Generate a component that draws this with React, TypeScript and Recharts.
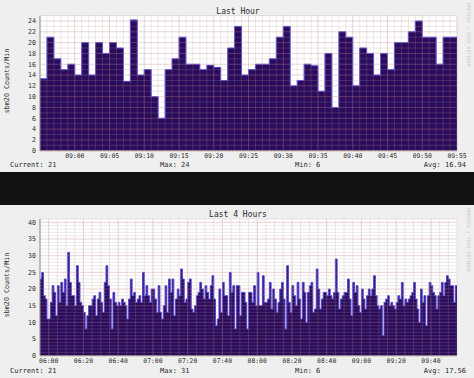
import React from 'react';
import { ComposedChart, Area, XAxis, YAxis, CartesianGrid } from 'recharts';

// ---- Last Hour (one value per minute, 08:55 → 09:55)
const hourValues = [
  13.3, 21, 17, 15, 16, 14, 20, 14, 20, 18,
  20, 19, 12.8, 24.2, 14, 15, 10, 6, 15, 17,
  21, 16, 16, 15, 15.8, 15.4, 13, 19, 23, 14,
  15, 16, 16, 17, 21, 23, 12, 13, 16, 15.7,
  11, 18, 8, 22, 21, 12, 19, 18, 14, 18,
  15, 20, 20, 22, 24, 21, 21, 16, 21, 21,
];
const hourTickLabels = ['09:00', '09:05', '09:10', '09:15', '09:20', '09:25', '09:30', '09:35', '09:40', '09:45', '09:50', '09:55'];
const hourYTicks = [0, 2, 4, 6, 8, 10, 12, 14, 16, 18, 20, 22, 24];

// ---- Last 4 Hours (one value per minute, 05:55 → 09:55)
const fourHourValues = [
  23, 25, 18, 17, 11, 11, 16, 21, 19, 12,
  21, 16, 22, 19, 23, 15, 31, 22, 18, 18,
  15, 27, 22, 16, 15, 13, 8, 12, 15, 15,
  17, 18, 12, 17, 19, 16, 13, 22, 27, 21,
  17, 8, 19, 16, 15, 16, 15, 17, 16, 15,
  11, 17, 23, 18, 19, 16, 17, 18, 16, 25,
  18, 21, 18, 16, 20, 20, 17, 13, 21, 13,
  11, 15, 21, 13, 23, 19, 23, 12, 17, 20,
  18, 26, 23, 16, 17, 22, 23, 14, 13, 15,
  18, 19, 22, 20, 17, 21, 19, 17, 21, 24,
  17, 9, 11, 20, 13, 22, 18, 18, 12, 25, 19, 21, 8,
  21, 21, 12, 19, 19, 16, 8, 19, 19, 16,
  21, 15, 25, 15, 15, 24, 16, 16, 17, 22,
  14, 20, 17, 13, 16, 20, 22, 17, 8, 27,
  16, 13, 21, 18, 15, 22, 17, 11, 22, 19,
  10, 19, 21, 22, 13, 14, 26, 20, 14, 17,
  19, 19, 18, 20, 18, 17, 19, 29, 19, 14,
  17, 18, 19, 19, 23, 17, 12, 22, 19, 21,
  15, 13, 20, 17, 14, 18, 20, 18, 20, 24,
  18, 15, 14, 15, 6, 16, 17, 18, 15, 16,
  15, 14, 16, 18, 17, 22, 15, 17, 16, 17,
  18, 19, 22, 17, 14, 10, 20, 16, 18, 9,
  18, 22, 21, 19, 18, 14, 18, 19, 22, 18,
  22, 24, 23, 21, 21, 16, 21,
];
const fourHourTickLabels = ['06:00', '06:20', '06:40', '07:00', '07:20', '07:40', '08:00', '08:20', '08:40', '09:00', '09:20', '09:40'];
const fourHourYTicks = [0, 5, 10, 15, 20, 25, 30, 35, 40];

const hourLegend = { current: '21', max: '24', min: '6', avg: '16.94' };
const fourHourLegend = { current: '21', max: '31', min: '6', avg: '17.56' };

const MONO = '"DejaVu Sans Mono", "Liberation Mono", monospace';
const FILL = '#2b0c5c';
const LINE = '#4d3fd6';
const TEXT = '#2a2a2a';

function toSteps(values: number[]) {
  const d = values.map((v, i) => ({ t: i, v }));
  d.push({ t: values.length, v: values[values.length - 1] });
  return d;
}

function range(start: number, end: number, step: number) {
  const out: number[] = [];
  for (let x = start; x <= end + 1e-9; x += step) out.push(x);
  return out;
}

type PanelProps = {
  top: number;
  height: number;
  plotTop: number;
  plotBottom: number;
  values: number[];
  yMax: number;
  yTicks: number[];
  xTickLabels: string[];
  firstTick: number;
  tickStep: number;
  minorX: number;
  minorY: number;
  title: string;
  legend: { current: string; max: string; min: string; avg: string };
};

function Txt({ x, y, size, children, anchor = 'left', color = TEXT }: any) {
  const tx = anchor === 'center' ? '-50%' : anchor === 'right' ? '-100%' : '0';
  return (
    <div
      style={{
        position: 'absolute', left: x, top: y, transform: `translate(${tx}, -50%)`,
        fontFamily: MONO, fontSize: size, color, whiteSpace: 'pre', lineHeight: 1,
      }}
    >
      {children}
    </div>
  );
}

function Panel(p: PanelProps) {
  const PLOT_LEFT = 40;
  const PLOT_RIGHT = 457;
  const W = 474;
  const n = p.values.length;
  const data = toSteps(p.values);
  const xTicks = p.xTickLabels.map((_, k) => p.firstTick + k * p.tickStep);
  const fmt = (t: number) => p.xTickLabels[Math.round((t - p.firstTick) / p.tickStep)] ?? '';
  const plotH = p.plotBottom - p.plotTop;
  const yLabelCenter = (p.plotTop + p.plotBottom) / 2 - 2;
  return (
    <div style={{ position: 'absolute', left: 0, top: p.top, width: W, height: p.height, background: '#efefef' }}>
      <div style={{ position: 'absolute', left: PLOT_LEFT, top: p.plotTop, width: PLOT_RIGHT - PLOT_LEFT, height: plotH, background: '#ffffff' }} />
      <div style={{ position: 'absolute', left: 0, top: 0 }}>
        <ComposedChart
          width={W}
          height={p.height}
          data={data}
          margin={{ top: p.plotTop, right: W - PLOT_RIGHT, bottom: 0, left: 0 }}
        >
          <XAxis
            dataKey="t"
            type="number"
            domain={[0, n]}
            ticks={xTicks}
            tickFormatter={fmt}
            interval={0}
            height={p.height - p.plotBottom}
            tickSize={0}
            tickMargin={3}
            axisLine={{ stroke: '#8a8a8a' }}
            tick={{ fontSize: 6.4, fontFamily: MONO, fill: TEXT }}
          />
          <YAxis
            type="number"
            domain={[0, p.yMax]}
            ticks={p.yTicks}
            interval={0}
            width={PLOT_LEFT}
            tickSize={0}
            tickMargin={4}
            axisLine={{ stroke: '#8a8a8a' }}
            tick={{ fontSize: 6.6, fontFamily: MONO, fill: TEXT }}
          />
          <Area
            type="stepAfter"
            dataKey="v"
            stroke={LINE}
            strokeWidth={1}
            fill={FILL}
            fillOpacity={1}
            dot={false}
            activeDot={false}
            isAnimationActive={false}
          />
          <CartesianGrid
            verticalValues={range(0, n, p.minorX)}
            horizontalValues={range(0, p.yMax, p.minorY)}
            stroke="#b09a9a"
            strokeOpacity={0.22}
            fill="none"
            zIndex={800}
          />
          <CartesianGrid
            verticalValues={xTicks}
            horizontalValues={p.yTicks}
            stroke="#e07070"
            strokeOpacity={0.16}
            fill="none"
            zIndex={801}
          />
        </ComposedChart>
      </div>
      <Txt x={238} y={p.plotTop - 4} size={8} anchor="center">{p.title}</Txt>
      <div
        style={{
          position: 'absolute', left: 7, top: yLabelCenter, transform: 'translate(-50%, -50%) rotate(-90deg)',
          fontFamily: MONO, fontSize: 6.7, color: TEXT, whiteSpace: 'pre', lineHeight: 1,
        }}
      >
        sbm20 Counts/Min
      </div>
      <div
        style={{
          position: 'absolute', left: 468, top: 35, transform: 'translate(-50%, -50%) rotate(90deg)',
          fontFamily: MONO, fontSize: 4.8, color: '#c8c8c8', whiteSpace: 'pre', lineHeight: 1,
        }}
      >
        RRDTOOL / TOBI OETIKER
      </div>
      <Txt x={10} y={p.height - 7} size={7}>{`Current: ${p.legend.current}`}</Txt>
      <Txt x={160} y={p.height - 7} size={7}>{`Max: ${p.legend.max}`}</Txt>
      <Txt x={295} y={p.height - 7} size={7}>{`Min: ${p.legend.min}`}</Txt>
      <Txt x={466} y={p.height - 7} size={7} anchor="right">{`Avg: ${p.legend.avg}`}</Txt>
    </div>
  );
}

export default function App() {
  return (
    <div style={{ position: 'absolute', left: 0, top: 0, width: 474, height: 378, overflow: 'hidden', background: '#121212' }}>
      <Panel
        top={0}
        height={172}
        plotTop={15.6}
        plotBottom={150.7}
        values={hourValues}
        yMax={25}
        yTicks={hourYTicks}
        xTickLabels={hourTickLabels}
        firstTick={5}
        tickStep={5}
        minorX={1}
        minorY={1}
        title="Last Hour"
        legend={hourLegend}
      />
      <Panel
        top={205}
        height={173}
        plotTop={14}
        plotBottom={150.7}
        values={fourHourValues}
        yMax={41}
        yTicks={fourHourYTicks}
        xTickLabels={fourHourTickLabels}
        firstTick={5}
        tickStep={20}
        minorX={5}
        minorY={1}
        title="Last 4 Hours"
        legend={fourHourLegend}
      />
    </div>
  );
}
